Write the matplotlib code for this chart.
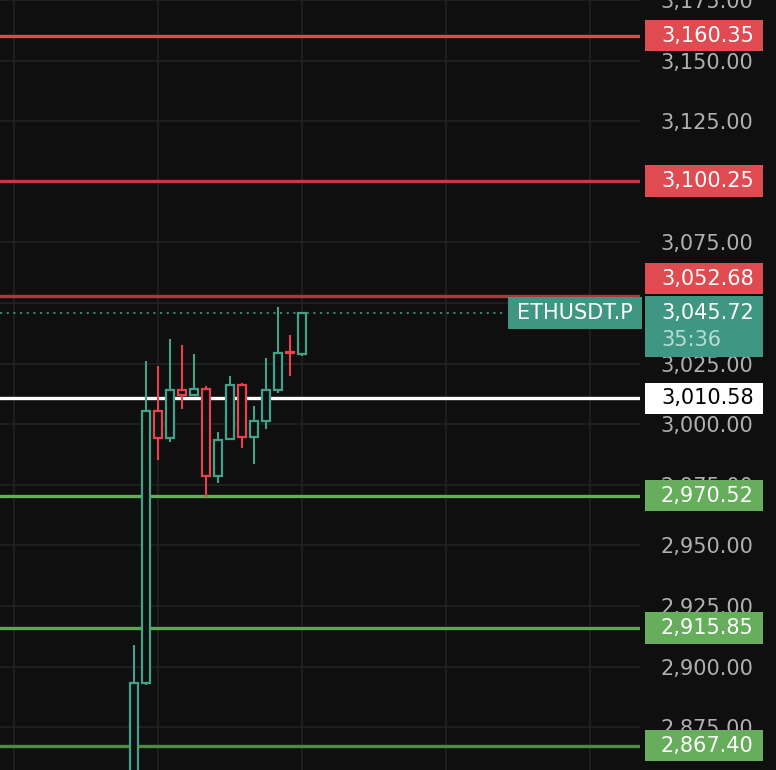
import matplotlib.pyplot as plt
from matplotlib.patches import Rectangle
from matplotlib.transforms import blended_transform_factory

# OHLC candles (ETHUSDT.P), oldest first
opens = [2850.0, 2893.3, 3005.5, 2994.1, 3013.9, 3012.0, 3014.3, 2978.6, 2993.7, 3016.0, 2994.5, 3001.5, 3014.1, 3029.6, 3028.9]
highs = [2908.9, 3026.0, 3024.1, 3035.1, 3032.7, 3029.0, 3015.7, 2996.6, 3020.0, 3017.1, 3007.3, 3027.3, 3048.2, 3036.8, 3045.9]
lows = [2846.0, 2892.4, 2985.2, 2992.8, 3006.1, 3011.6, 2970.1, 2975.8, 2993.5, 2990.2, 2983.6, 2998.0, 3012.7, 3019.7, 3028.3]
closes = [2893.0, 3005.5, 2994.1, 3013.9, 3012.0, 3014.3, 2978.6, 2993.4, 3016.0, 2994.5, 3001.2, 3013.9, 3029.3, 3029.2, 3045.72]

# horizontal levels: price, line colour, label box colour, label text colour
level_prices = [3160.35, 3100.25, 3052.68, 3010.58, 2970.52, 2915.85, 2867.40]
level_line_colors = ['#e0474f', '#c23b40', '#a8393c', '#ffffff', '#64ad5a', '#5fa555', '#4f8a45']
level_box_colors = ['#e04b51', '#e04b51', '#e04b51', '#ffffff', '#66ad5c', '#66ad5c', '#66ad5c']
level_text_colors = ['white', 'white', 'white', 'black', 'white', 'white', 'white']
# label shift in pixels (pushed up so it does not overlap the last-price tag)
level_label_shift = [0, 0, 18, 0, 0, 0, 0]

last_price = 3045.72
symbol = 'ETHUSDT.P'
countdown = '35:36'
yticks = list(range(2875, 3176, 25))
hidden_ticks = [3050]  # fully covered by the price tags

BG = '#0f0f0f'
GREEN = '#45a088'
RED = '#e8424d'
TEAL = '#3f9783'
FS = 15

plt.rcParams['font.family'] = ['DejaVu Sans']
fig = plt.figure(figsize=(7.76, 7.70), dpi=100, facecolor=BG)
ax = fig.add_axes([0, 0, 640 / 776, 1])
ax.set_facecolor(BG)

ax.set_xlim(-11.17, 42.17)
ax.set_ylim(2857.3, 3172.8)

# grid
ax.set_xticks([-10, 2, 14, 26, 38])
ax.set_yticks(yticks)
ax.grid(True, color='#222222', lw=1.2, zorder=0)
ax.tick_params(axis='x', length=0, labelbottom=False)
ax.yaxis.tick_right()
ax.tick_params(axis='y', length=0, pad=15, labelsize=FS, labelcolor='#b0b0b0')
ax.set_yticklabels(['' if v in hidden_ticks else f'{v:,.2f}' for v in yticks])
for s in ax.spines.values():
    s.set_visible(False)

# candles (hollow)
bw = 0.66
for i, (o, h, l, c) in enumerate(zip(opens, highs, lows, closes)):
    col = GREEN if c >= o else RED
    top, bot = max(o, c), min(o, c)
    ax.vlines(i, top, h, color=col, lw=1.5, zorder=3)
    ax.vlines(i, l, bot, color=col, lw=1.5, zorder=3)
    ax.add_patch(Rectangle((i - bw / 2, bot), bw, max(top - bot, 0.3),
                           facecolor=BG, edgecolor=col, lw=1.6, zorder=3))

# level lines
for p, lc in zip(level_prices, level_line_colors):
    ax.axhline(p, color=lc, lw=2.4, zorder=2)

# last price dotted line
ax.plot([-11.17, 31.0], [last_price, last_price], color=TEAL, lw=1.2,
        ls=(0, (1.3, 2.7)), zorder=2)

tr = blended_transform_factory(ax.transAxes, ax.transData)
px = 1 / 2.44  # price units per pixel

# price labels on the right
for p, bc, tc, sh in zip(level_prices, level_box_colors, level_text_colors, level_label_shift):
    yc = p + sh * px
    ax.add_patch(Rectangle((645 / 640, yc - 16 * px), 118 / 640, 32 * px, transform=tr,
                           facecolor=bc, edgecolor='none', clip_on=False, zorder=6))
    ax.text(661 / 640, yc, f'{p:,.2f}', transform=tr, color=tc, fontsize=FS,
            va='center', ha='left', zorder=7, clip_on=False)

# current price box
ax.add_patch(Rectangle((645 / 640, last_price - 44 * px), 118 / 640, 61 * px, transform=tr,
                       facecolor=TEAL, edgecolor='none', clip_on=False, zorder=6))
ax.text(661 / 640, last_price, f'{last_price:,.2f}', transform=tr, color='white',
        fontsize=FS, va='center', ha='left', zorder=7, clip_on=False)
ax.text(661 / 640, last_price - 27 * px, countdown, transform=tr, color='#b8ddd3',
        fontsize=FS, va='center', ha='left', zorder=7, clip_on=False)

# symbol tag
ax.add_patch(Rectangle((508 / 640, last_price - 16 * px), 134 / 640, 32 * px, transform=tr,
                       facecolor=TEAL, edgecolor='none', clip_on=False, zorder=6))
ax.text(575 / 640, last_price, symbol, transform=tr, color='white', fontsize=FS,
        va='center', ha='center', zorder=7, clip_on=False)

fig.savefig('out.png', dpi=100, facecolor=BG)
